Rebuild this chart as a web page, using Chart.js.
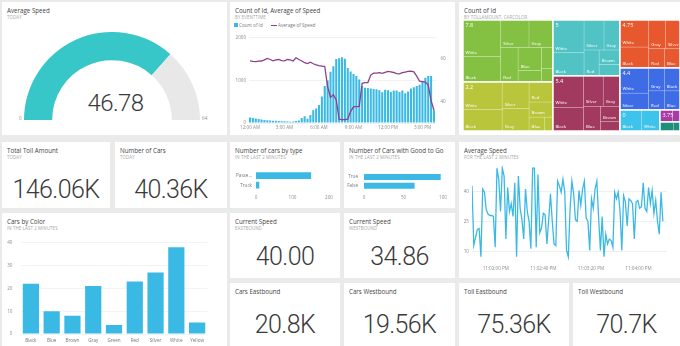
<!DOCTYPE html>
<html>
<head>
<meta charset="utf-8">
<script src="https://cdn.jsdelivr.net/npm/chart.js@4.4.1/dist/chart.umd.min.js"></script>
<style>
  html, body { margin: 0; padding: 0; }
  body { width: 680px; height: 346px; background: #eaeaea; position: relative; overflow: hidden; font-family: "Open Sans", sans-serif; }
  .tile { position: absolute; background: #fff; }
  .title { position: absolute; left: 5px; top: 4.5px; font-size: 6.2px; line-height: 8px; color: #444; white-space: nowrap; }
  .sub { position: absolute; left: 5px; top: 12.5px; font-size: 4.4px; line-height: 5px; color: #a6a6a6; letter-spacing: 0.1px; white-space: nowrap; }
  .big { position: absolute; left: 0; right: 0; text-align: center; font-family: Roboto, sans-serif; font-size: 25px; line-height: 30px; font-weight: 300; letter-spacing: -0.6px; color: #3a3a3a; white-space: nowrap; }
  .box { position: absolute; }
  .small { position: absolute; font-size: 4.6px; line-height: 6px; color: #8c8c8c; white-space: nowrap; }
</style>
</head>
<body>

<!-- row 1 -->
<div class="tile" style="left:2px;top:2px;width:225px;height:133px">
  <div class="title">Average Speed</div>
  <div class="sub">TODAY</div>
  <div class="big" style="top:87px;font-size:24px;line-height:28px;left:2px">46.78</div>
</div>
<div class="small" style="left:19px;top:115px">0</div>
<div class="small" style="left:202px;top:115px">64</div>
<div class="box" style="left:24px;top:32px;width:176px;height:88px"><canvas id="gauge"></canvas></div>

<div class="tile" style="left:230px;top:2px;width:225px;height:133px">
  <div class="title">Count of Id, Average of Speed</div>
  <div class="sub">BY EVENTTIME</div>
</div>
<div style="position:absolute;left:234px;top:23px;width:3.5px;height:3.5px;background:#3bb9e5"></div>
<div class="small" style="left:239px;top:22px;color:#777">Count of Id</div>
<div style="position:absolute;left:271px;top:24.5px;width:5.5px;height:1.2px;background:#8d3f8c"></div>
<div class="small" style="left:278px;top:22px;color:#777">Average of Speed</div>
<div class="box" style="left:232px;top:30px;width:218px;height:102px"><canvas id="combo"></canvas></div>

<div class="tile" style="left:459px;top:2px;width:221px;height:133px">
  <div class="title">Count of Id</div>
  <div class="sub">BY TOLLAMOUNT, CARCOLOR</div>
</div>
<div class="box" style="left:463px;top:20px;width:217px;height:111px"><canvas id="treemap"></canvas></div>

<!-- row 2 -->
<div class="tile" style="left:2px;top:142px;width:108px;height:66px">
  <div class="title">Total Toll Amount</div>
  <div class="sub">TODAY</div>
  <div class="big" style="top:32.5px">146.06K</div>
</div>
<div class="tile" style="left:115px;top:142px;width:112px;height:66px">
  <div class="title">Number of Cars</div>
  <div class="sub">TODAY</div>
  <div class="big" style="top:32.5px">40.36K</div>
</div>
<div class="tile" style="left:230px;top:142px;width:110px;height:66px">
  <div class="title">Number of cars by type</div>
  <div class="sub">IN THE LAST 2 MINUTES</div>
</div>
<div class="box" style="left:232px;top:164px;width:106px;height:40px"><canvas id="byType"></canvas></div>
<div class="tile" style="left:344px;top:142px;width:111px;height:66px">
  <div class="title">Number of Cars with Good to Go</div>
  <div class="sub">IN THE LAST 2 MINUTES</div>
</div>
<div class="box" style="left:346px;top:164px;width:106px;height:40px"><canvas id="goodToGo"></canvas></div>

<div class="tile" style="left:459px;top:142px;width:221px;height:136px">
  <div class="title">Average Speed</div>
  <div class="sub">FOR THE LAST 2 MINUTES</div>
</div>
<div class="box" style="left:461px;top:160px;width:217px;height:116px"><canvas id="speedLine"></canvas></div>

<!-- row 3 -->
<div class="tile" style="left:2px;top:213px;width:225px;height:140px">
  <div class="title">Cars by Color</div>
  <div class="sub">IN THE LAST 2 MINUTES</div>
</div>
<div class="box" style="left:4px;top:232px;width:222px;height:114px"><canvas id="byColor"></canvas></div>

<div class="tile" style="left:230px;top:213px;width:110px;height:65px">
  <div class="title">Current Speed</div>
  <div class="sub">EASTBOUND</div>
  <div class="big" style="top:29px">40.00</div>
</div>
<div class="tile" style="left:344px;top:213px;width:111px;height:65px">
  <div class="title">Current Speed</div>
  <div class="sub">WESTBOUND</div>
  <div class="big" style="top:29px">34.86</div>
</div>

<!-- row 4 -->
<div class="tile" style="left:230px;top:283px;width:110px;height:70px">
  <div class="title">Cars Eastbound</div>
  <div class="big" style="top:26.7px">20.8K</div>
</div>
<div class="tile" style="left:344px;top:283px;width:111px;height:70px">
  <div class="title">Cars Westbound</div>
  <div class="big" style="top:26.7px">19.56K</div>
</div>
<div class="tile" style="left:459px;top:283px;width:110px;height:70px">
  <div class="title">Toll Eastbound</div>
  <div class="big" style="top:26.7px">75.36K</div>
</div>
<div class="tile" style="left:573px;top:283px;width:107px;height:70px">
  <div class="title">Toll Westbound</div>
  <div class="big" style="top:26.7px">70.7K</div>
</div>

<script>
// gauge
const gaugeValue = 46.78;
const gaugeMax = 64;

// count of id / average of speed, every 15 minutes from 12:00 AM
const comboCounts = [
  130, 120, 105, 95, 80, 70, 65, 60, 55, 50, 45, 40, 40, 35, 30, 35,
  45, 60, 120, 160, 100, 190, 300, 340, 420, 620, 870, 1000, 1200, 1330, 1500, 1520,
  1540, 1510, 1290, 1210, 1150, 1100, 1020, 870, 830, 820, 810, 800, 790, 770, 720, 780,
  770, 730, 760, 760, 730, 760, 700, 740, 810, 840, 870, 900, 980, 1060, 1100, 1100, 300
];
const comboSpeeds = [
  59.2, 58.9, 58.8, 59.0, 59.1, 59.6, 60.3, 59.8, 59.2, 59.6, 59.8, 59.3, 59.2, 59.8, 59.6, 59.1,
  60.6, 59.8, 59.1, 58.3, 57.9, 58.5, 57.8, 57.3, 56.9, 56.7, 56.5, 47.0, 42.0, 43.2, 40.8, 31.8,
  31.6, 31.6, 31.8, 35.5, 37.6, 37.7, 37.8, 48.6, 48.9, 49.0, 52.5, 53.4, 53.4, 53.6, 53.3, 53.8,
  54.2, 54.0, 53.7, 53.2, 53.1, 53.6, 53.9, 54.2, 54.3, 54.0, 52.0, 49.6, 49.4, 49.2, 47.8, 40.5, 36.0
];
const comboTimes = comboCounts.map((_, i) => {
  const m = i * 15;
  const h = Math.floor(m / 60);
  const mm = String(m % 60).padStart(2, '0');
  return (h % 12 || 12) + ':' + mm + (h < 12 ? ' AM' : ' PM');
});
const speedAxisTicks = [40, 60];

// treemap: toll amount -> car color
const tollGroups = ['7.8', '2.2', '5', '5.4', '4.75', '4.4', '0', '3.75', '6'];
const tollCarColors = [
  ['White', 'Black', 'Silver', 'Gray', 'Red', 'Blue', 'Yellow', 'Brown', 'Green'],
  ['White', 'Black', 'Silver', 'Gray', 'Red', 'Brown', 'Blue', 'Yellow'],
  ['White', 'Black', 'Silver', 'Gray', 'Red', 'Brown', 'Blue'],
  ['White', 'Black', 'Silver', 'Gray', 'Blue', 'Brown', 'Red'],
  ['White', 'Black', 'Gray', 'Silver', 'Red', 'Blue'],
  ['White', 'Silver', 'Gray', 'Black', 'Red', 'Blue'],
  ['Black', 'White'],
  ['White', 'Black'],
  ['White', 'Black']
];
const tollCounts = [
  [46, 32, 26, 22, 20, 18, 9, 8, 5],
  [36, 28, 24, 20, 16, 12, 7, 4],
  [34, 24, 20, 16, 13, 10, 8],
  [32, 24, 20, 17, 14, 10, 6],
  [26, 20, 16, 14, 10, 10],
  [24, 16, 12, 12, 10, 10],
  [15, 13],
  [5, 3],
  [4, 2]
];
const tollFill = ['#84c042', '#b9c63b', '#52c3c4', '#a23a5f', '#e8582e', '#3e6ce6', '#3ec3ea', '#a83ba6', '#1f8f7c'];

// cars by type / good to go
const typeLabels = ['Passenger', 'Truck'];
const typeCounts = [151, 9];
const typeTicks = [0, 100, 200];
const goodToGoLabels = ['True', 'False'];
const goodToGoCounts = [97, 64];
const goodToGoTicks = [0, 50, 100];

// average speed, last 2 minutes (seconds after 11:00:00 PM)
const speedStartSec = 100;
const speedStepSec = 1.5;
const speedValues = [
  42.9, 13, 17, 21, 21.5, 7.3, 41.3, 39.7, 30.8, 28.7, 28, 28, 27.5, 12.1, 51.8, 46.2, 30, 51.8,
  47.8, 16.2, 42.1, 30, 34, 27.5, 44.5, 7.3, 47.8, 31.6, 25.9, 16.2, 41.3, 30, 25.1, 11.3, 51.8, 51.8,
  12.1, 48.6, 19.4, 21.8, 29.1, 28.3, 13.7, 25.9, 38.9, 25.1, 13.7, 12.9, 45.3, 42.9, 39.7, 46.2, 39.7, 10.5,
  7.3, 31.6, 45.3, 38.9, 25.9, 25.1, 40.5, 33.2, 41.3, 45.3, 26.7, 25.1, 10.5, 36.4, 31.6, 41.3, 45.3, 26.7,
  10.5, 27.5, 7.3, 18.6, 13.7, 16.2, 15.4, 12, 39.7, 36.4, 39.7, 30, 10.5, 38, 34.8, 22.7, 36.4, 35.6,
  34, 16.2, 34.8, 35.6, 31.6, 32.4, 44.5, 31.6, 30, 42.1, 34, 40.5, 29.1, 35.6, 25.1, 18.6, 39.7, 25.1
];
const speedTicks = [10, 25, 40];

// cars by color
const colorLabels = ['Black', 'Blue', 'Brown', 'Gray', 'Green', 'Red', 'Silver', 'White', 'Yellow'];
const colorCounts = [22, 10, 8, 21, 4, 23, 27, 38, 5];

const BLUE = '#3bb9e5';
Chart.defaults.font.family = '"Open Sans", sans-serif';
Chart.defaults.font.size = 4.6;
Chart.defaults.color = '#8c8c8c';
Chart.defaults.animation = false;
Chart.defaults.plugins.legend.display = false;
Chart.defaults.plugins.tooltip.enabled = false;
Chart.defaults.maintainAspectRatio = false;

const fixWidth = (w) => (scale) => { scale.width = w; };
const fixHeight = (h) => (scale) => { scale.height = h; };
const setTicks = (vals) => (axis) => { axis.ticks = vals.map(v => ({ value: v })); };
const plain = (v) => String(v);
const noGrid = { display: false, drawTicks: false };

// gauge
new Chart(document.getElementById('gauge'), {
  type: 'doughnut',
  data: {
    datasets: [{
      data: [gaugeValue, gaugeMax - gaugeValue],
      backgroundColor: ['#37c7c8', '#e8e8e8'],
      borderWidth: 0
    }]
  },
  options: {
    rotation: -90,
    circumference: 180,
    cutout: '68%',
    layout: { padding: 0 }
  }
});

// count of id + average speed
new Chart(document.getElementById('combo'), {
  data: {
    labels: comboTimes,
    datasets: [
      {
        type: 'line', data: comboSpeeds, yAxisID: 'y1', order: 0,
        borderColor: '#8d3f8c', borderWidth: 1.3, pointRadius: 0, tension: 0
      },
      {
        type: 'bar', data: comboCounts, yAxisID: 'y', order: 1,
        backgroundColor: BLUE, barPercentage: 0.72, categoryPercentage: 1
      }
    ]
  },
  options: {
    layout: { padding: { top: 4.5 } },
    scales: {
      x: {
        grid: noGrid, border: { display: false },
        ticks: {
          autoSkip: false, maxRotation: 0, minRotation: 0, padding: 2,
          callback(value, index) { return index % 12 === 0 ? this.getLabelForValue(value) : ''; }
        },
        afterFit: fixHeight(9)
      },
      y: {
        min: 0, max: 2000,
        ticks: { stepSize: 1000, padding: 2.5, callback: plain },
        grid: { color: '#f1f1f1', drawTicks: false }, border: { display: false },
        afterFit: fixWidth(16.6)
      },
      y1: {
        position: 'right', min: 30, max: 70,
        ticks: { padding: 5, callback: plain },
        afterBuildTicks: setTicks(speedAxisTicks),
        grid: { drawOnChartArea: false, drawTicks: false }, border: { display: false },
        afterFit: fixWidth(14.6)
      }
    }
  }
});

// squarified treemap layout in value space
function squarify(items, x, y, w, h) {
  const total = items.reduce((s, d) => s + d.value, 0);
  const k = (w * h) / total;
  const rest = items.map(d => Object.assign({}, d, { area: d.value * k }));
  const out = [];
  let row = [];
  const worst = (r, side) => {
    const s = r.reduce((a, n) => a + n.area, 0);
    const mx = Math.max(...r.map(n => n.area));
    const mn = Math.min(...r.map(n => n.area));
    return Math.max(side * side * mx / (s * s), (s * s) / (side * side * mn));
  };
  const flush = () => {
    const s = row.reduce((a, n) => a + n.area, 0);
    if (w >= h) {
      const cw = s / h;
      let cy = y;
      row.forEach(n => { const nh = n.area / cw; out.push(Object.assign(n, { x, y: cy, w: cw, h: nh })); cy += nh; });
      x += cw; w -= cw;
    } else {
      const rh = s / w;
      let cx = x;
      row.forEach(n => { const nw = n.area / rh; out.push(Object.assign(n, { x: cx, y, w: nw, h: rh })); cx += nw; });
      y += rh; h -= rh;
    }
    row = [];
  };
  while (rest.length) {
    const side = Math.min(w, h);
    if (row.length === 0 || worst(row.concat(rest[0]), side) <= worst(row, side)) {
      row.push(rest.shift());
    } else {
      flush();
    }
  }
  if (row.length) flush();
  return out;
}

const treemapPlugin = {
  id: 'treemap',
  afterDatasetsDraw(chart) {
    const { ctx, scales: { x, y } } = chart;
    const groups = tollGroups.map((g, i) => ({ label: g, index: i, value: tollCounts[i].reduce((a, b) => a + b, 0) }));
    const rects = squarify(groups, x.min, y.min, x.max - x.min, y.max - y.min);
    const px = (r) => {
      const x0 = x.getPixelForValue(r.x), x1 = x.getPixelForValue(r.x + r.w);
      const y0 = y.getPixelForValue(r.y), y1 = y.getPixelForValue(r.y + r.h);
      return { x0, y0, w: x1 - x0, h: y1 - y0 };
    };
    ctx.save();
    rects.forEach(g => {
      const kids = tollCarColors[g.index].map((c, j) => ({ label: c, value: tollCounts[g.index][j] }));
      const kidRects = squarify(kids, g.x, g.y, g.w, g.h);
      kidRects.forEach(kr => {
        const p = px(kr);
        ctx.fillStyle = tollFill[g.index];
        ctx.fillRect(p.x0, p.y0, p.w, p.h);
        ctx.strokeStyle = 'rgba(255,255,255,0.3)';
        ctx.lineWidth = 0.6;
        ctx.strokeRect(p.x0, p.y0, p.w, p.h);
        if (p.w > 14 && p.h > 12) {
          ctx.fillStyle = '#fff';
          ctx.font = '4.3px "Open Sans", sans-serif';
          ctx.textBaseline = 'bottom';
          ctx.fillText(kr.label, p.x0 + 2.5, p.y0 + p.h - 2);
        }
      });
      const gp = px(g);
      ctx.strokeStyle = '#fff';
      ctx.lineWidth = 1.4;
      ctx.strokeRect(gp.x0, gp.y0, gp.w, gp.h);
      if (gp.w > 12 && gp.h > 10) {
        ctx.fillStyle = '#fff';
        ctx.font = '5.5px "Open Sans", sans-serif';
        ctx.textBaseline = 'top';
        ctx.fillText(g.label, gp.x0 + 2.5, gp.y0 + 2.5);
      }
    });
    ctx.restore();
  }
};

new Chart(document.getElementById('treemap'), {
  type: 'scatter',
  data: { datasets: [] },
  options: {
    layout: { padding: 0 },
    scales: {
      x: { type: 'linear', min: 0, max: 217, display: false },
      y: { type: 'linear', min: 0, max: 111, reverse: true, display: false }
    }
  },
  plugins: [treemapPlugin]
});

function hbarOptions(max, tickVals, yWidth, padRight, labelPad) {
  return {
    indexAxis: 'y',
    layout: { padding: { top: 4, right: padRight } },
    scales: {
      x: {
        min: 0, max: max,
        afterBuildTicks: setTicks(tickVals),
        ticks: { padding: 5 },
        grid: noGrid, border: { display: false },
        afterFit: fixHeight(14)
      },
      y: {
        ticks: {
          padding: labelPad, color: '#777',
          callback(value) {
            const s = this.getLabelForValue(value);
            return s.length > 6 ? s.slice(0, 5) + '...' : s;
          }
        },
        grid: noGrid, border: { display: false },
        afterFit: fixWidth(yWidth)
      }
    }
  };
}

new Chart(document.getElementById('byType'), {
  type: 'bar',
  data: { labels: typeLabels, datasets: [{ data: typeCounts, backgroundColor: BLUE, barPercentage: 0.7, categoryPercentage: 1 }] },
  options: hbarOptions(200, typeTicks, 24, 6, 4)
});

new Chart(document.getElementById('goodToGo'), {
  type: 'bar',
  data: { labels: goodToGoLabels, datasets: [{ data: goodToGoCounts, backgroundColor: BLUE, barPercentage: 0.7, categoryPercentage: 1 }] },
  options: hbarOptions(100, goodToGoTicks, 18, 7, 6)
});

// average speed line
new Chart(document.getElementById('speedLine'), {
  type: 'line',
  data: {
    datasets: [{
      data: speedValues.map((v, i) => ({ x: speedStartSec + i * speedStepSec, y: v })),
      borderColor: BLUE, borderWidth: 1.3, pointRadius: 0, tension: 0
    }]
  },
  options: {
    layout: { padding: { top: 2, right: 11 } },
    scales: {
      x: {
        type: 'linear', min: 100, max: 264,
        ticks: {
          stepSize: 40, includeBounds: false, padding: 4.5, maxRotation: 0,
          callback: (v) => '11:' + String(Math.floor(v / 60)).padStart(2, '0') + ':' + String(v % 60).padStart(2, '0') + ' PM'
        },
        grid: noGrid, border: { display: false },
        afterFit: fixHeight(14.7)
      },
      y: {
        min: 5, max: 53,
        afterBuildTicks: setTicks(speedTicks),
        ticks: { padding: 3 },
        grid: { color: '#efefef', drawTicks: false }, border: { display: false },
        afterFit: fixWidth(11)
      }
    }
  }
});

// cars by color
new Chart(document.getElementById('byColor'), {
  type: 'bar',
  data: { labels: colorLabels, datasets: [{ data: colorCounts, backgroundColor: BLUE, barPercentage: 0.78, categoryPercentage: 1 }] },
  options: {
    layout: { padding: { top: 3, right: 18.5 } },
    scales: {
      x: {
        grid: noGrid, border: { display: false },
        ticks: { padding: 4, maxRotation: 0, autoSkip: false, color: '#777' },
        afterFit: fixHeight(12)
      },
      y: {
        min: 0, max: 40,
        ticks: { stepSize: 10, padding: 8 },
        grid: { color: '#f3f3f3', drawTicks: false }, border: { display: false },
        afterFit: fixWidth(16.5)
      }
    }
  }
});
</script>
</body>
</html>
